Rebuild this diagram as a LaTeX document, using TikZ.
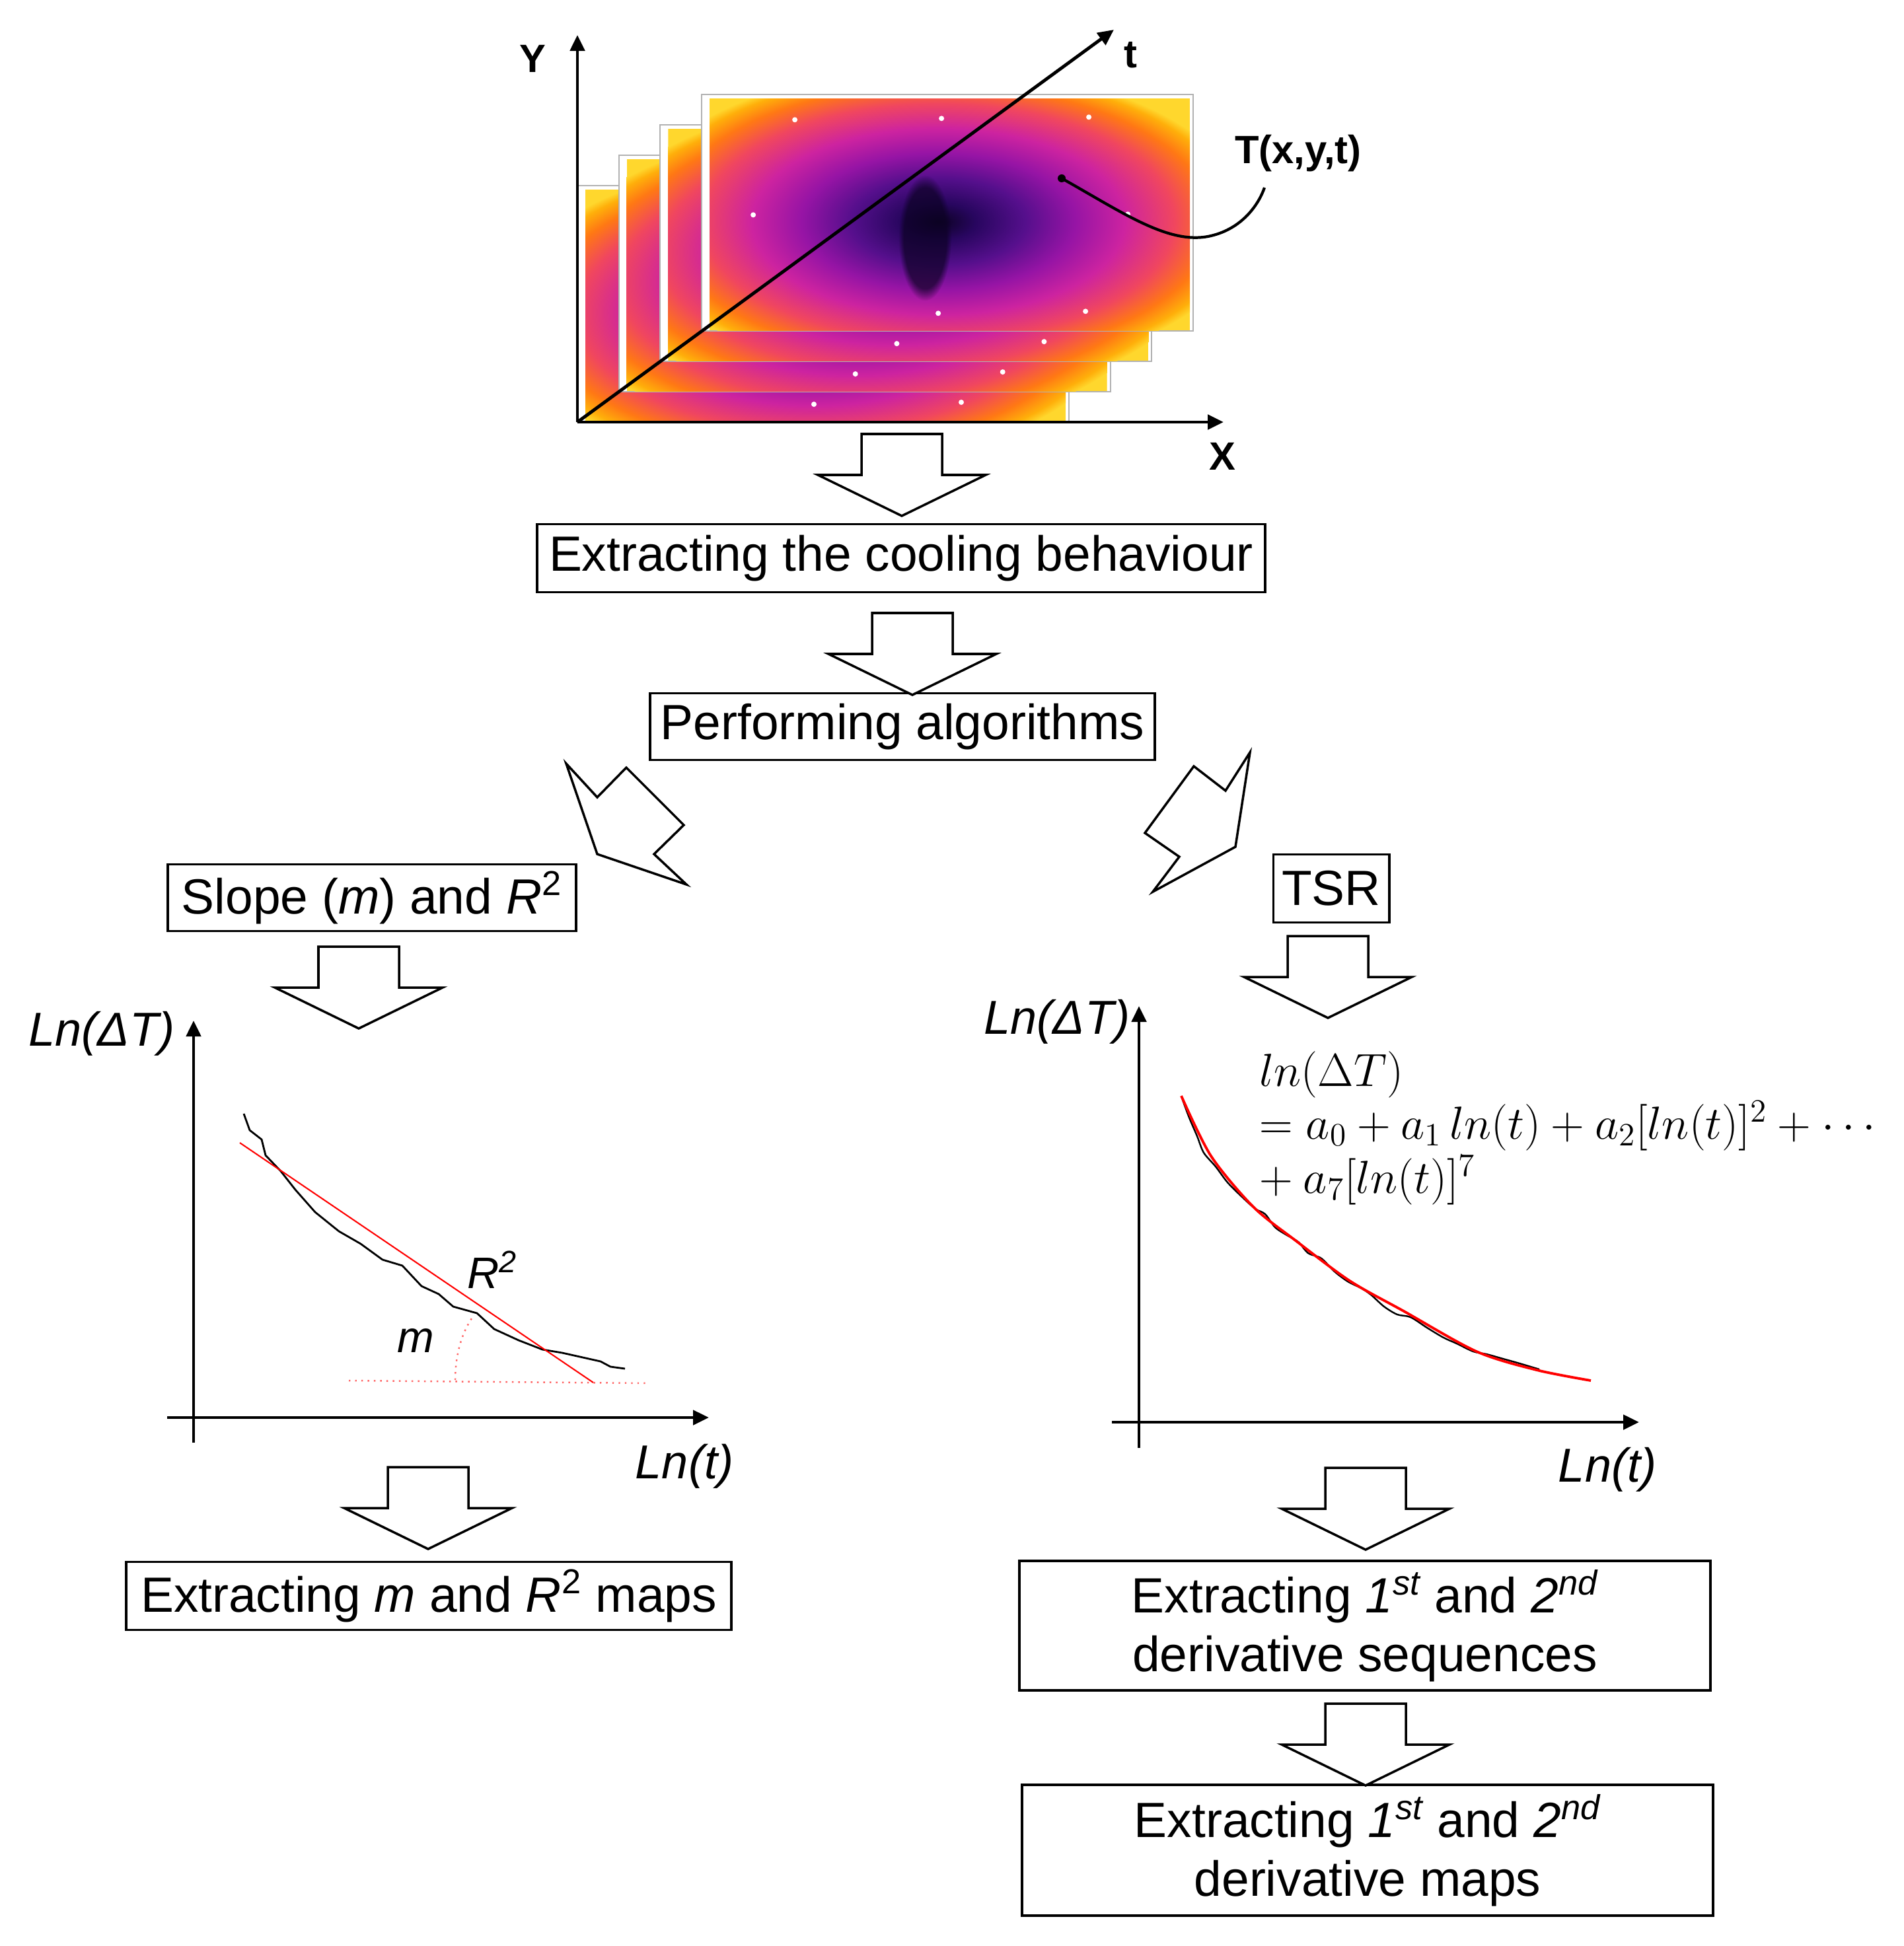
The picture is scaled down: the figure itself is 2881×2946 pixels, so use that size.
\RequirePackage{fix-cm}
\documentclass[tikz,border=0pt]{standalone}
\usepackage[no-math]{fontspec}
\setmainfont{Liberation Sans}
\usetikzlibrary{arrows.meta,fadings}
\definecolor{thdark}{RGB}{12,2,35}
\definecolor{thnavy}{RGB}{40,6,95}
\definecolor{thindigo}{RGB}{85,15,140}
\definecolor{thpurple}{RGB}{150,20,165}
\definecolor{thmagenta}{RGB}{205,35,160}
\definecolor{thpink}{RGB}{240,70,95}
\definecolor{thorange}{RGB}{255,120,20}
\definecolor{thamber}{RGB}{255,175,10}
\definecolor{thyellow}{RGB}{255,215,45}
\pgfdeclareradialshading{thermal}{\pgfpoint{0bp}{0bp}}{color(0bp)=(thdark); color(3bp)=(thnavy);
  color(7bp)=(thindigo); color(11bp)=(thpurple); color(15bp)=(thmagenta); color(19bp)=(thpink);
  color(22bp)=(thorange); color(24bp)=(thamber); color(25bp)=(thyellow); color(50bp)=(thyellow)}
\tikzset{
  procbox/.style={draw=black,line width=1.1pt,inner sep=0pt,align=center,
    font=\fontsize{21.3}{25.3}\selectfont},
  axis/.style={line width=1.4pt},
  axlbl/.style={font=\itshape\fontsize{20.5}{24}\selectfont},
  plbl/.style={font=\itshape\fontsize{19}{22}\selectfont},
  tag/.style={font=\bfseries\fontsize{17}{20}\selectfont},
  eqn/.style={anchor=base west,inner sep=0pt,font=\fontsize{20}{24}\selectfont},
  hollow/.style={draw=black,line width=1pt,fill=white,line join=miter},
  % pictograms
  pics/downarrow/.style={code={
    \draw[hollow] (-61,0) -- (61,0) -- (61,62) -- (127,62) -- (0,124) -- (-127,62) -- (-61,62) -- cycle;
  }},
}
\begin{document}
\begin{tikzpicture}[x=0.01cm,y=-0.01cm,>={Triangle[length=0.24cm,width=0.22cm]}]
  \useasboundingbox (0,0) rectangle (2881,2946);

  % stack of thermograms
  \foreach \k in {0,1,2,3}{
    \begin{scope}[shift={(62.7*\k,-45.9*\k)}]
      \fill[white,draw=gray!60,line width=0.6pt] (874,281) rectangle (1618,639);
      \begin{scope}
        \clip (886,287) rectangle (1613,638);
        \fill[thyellow] (886,287) rectangle (1613,638);
        \shade[shading=thermal] (1232,473) ellipse (470 and 235);
        \fill[thdark,opacity=0.7,path fading=circle with fuzzy edge 20 percent] (1212,498) ellipse (40 and 95);
        \foreach \p in {(1015,319),(1237,317),(1460,315),(952,463),(1232,612),(1455,609),(1519,462)}
          \fill[white] \p circle (4);
      \end{scope}
    \end{scope}
  }
  \coordinate (o) at (874,639);
  \draw[axis,->] (o) -- (874,53);
  \draw[axis,->] (o) -- (1852,639);
  \draw[axis,->] (o) -- (1686,45);
  \node[tag] (ylab) at (806,89) {Y};
  \node[tag] (tlab) at (1711,83) {t};
  \node[tag] (xlab) at (1850,691) {X};
  \node[tag] (txyt) at (1965,232) {T(x,y,t)};
  \fill (1607,270) circle (6);
  \draw[line width=1.2pt] (1607,270) .. controls (1700,322) and (1770,372) .. (1833,357)
    .. controls (1880,346) and (1905,310) .. (1914,284);

  % flow boxes
  \node[procbox,minimum width=11.01cm,minimum height=1.03cm] (cool) at (1364,845) {Extracting the cooling behaviour};
  \node[procbox,minimum width=7.63cm,minimum height=1.01cm] (perf) at (1366,1100) {Performing algorithms};
  \node[procbox,minimum width=6.18cm,minimum height=1.01cm] (slope) at (563,1359) {Slope (\textit{m}) and \textit{R}\textsuperscript{2}};
  \node[procbox,minimum width=1.75cm,minimum height=1.03cm] (tsr) at (2015,1345) {TSR};
  \node[procbox,minimum width=9.15cm,minimum height=1.03cm] (mapsl) at (649,2416) {Extracting \textit{m} and \textit{R}\textsuperscript{2} maps};
  \node[procbox,minimum width=10.46cm,minimum height=1.96cm] (seq) at (2066,2461)
    {Extracting \textit{1\textsuperscript{st}} and \textit{2\textsuperscript{nd}}\\derivative sequences};
  \node[procbox,minimum width=10.46cm,minimum height=1.98cm] (dmaps) at (2070,2801)
    {Extracting \textit{1\textsuperscript{st}} and \textit{2\textsuperscript{nd}}\\derivative maps};

  % block arrows
  \pic at (1365,657) {downarrow};
  \pic at (1381,928) {downarrow};
  \pic at (543,1433) {downarrow};
  \pic at (2010,1417) {downarrow};
  \pic at (648,2221) {downarrow};
  \pic at (2067,2222) {downarrow};
  \pic at (2067,2579) {downarrow};
  \draw[hollow] (857,1156) -- (904,1207) -- (948,1162) -- (1035,1249) -- (990,1293) -- (1039,1339) -- (904,1293) -- cycle;
  \draw[hollow] (1892,1139) -- (1855,1197) -- (1807,1160) -- (1733,1261) -- (1785,1297) -- (1745,1350) -- (1870,1282) -- cycle;

  % slope plot
  \draw[axis,->] (293,2184) -- (293,1545);
  \draw[axis,->] (253,2146) -- (1073,2146);
  \node[axlbl] (lyl) at (154,1565) {Ln(ΔT)};
  \node[axlbl] (lxl) at (1036,2220) {Ln(t)};
  \draw[line width=0.8pt] plot coordinates {(369,1686) (378,1711) (396,1725) (402,1749) (425,1773) (447,1801)
    (477,1835) (513,1864) (546,1883) (579,1907) (609,1916) (638,1947) (664,1959) (686,1978) (722,1988)
    (748,2012) (785,2029) (821,2043) (851,2048) (909,2061) (924,2069) (946,2072)};
  \draw[red,line width=0.6pt] (363,1730) -- (898,2093);
  \draw[red!60,dotted,line width=0.7pt] (528,2090) -- (983,2094);
  \draw[red!60,dotted,line width=0.7pt] (689,2089) .. controls (689,2050) and (700,2015) .. (716,1993);
  \node[plbl] (r2) at (745,1922) {R\textsuperscript{2}};
  \node[plbl] (mlbl) at (629,2030) {m};

  % TSR plot
  \draw[axis,->] (1724,2192) -- (1724,1523);
  \draw[axis,->] (1683,2153) -- (2481,2153);
  \node[axlbl] (ryl) at (1600,1547) {Ln(ΔT)};
  \node[axlbl] (rxl) at (2433,2225) {Ln(t)};
  \draw[line width=0.7pt] plot[smooth] coordinates {(1790,1665) (1800,1692) (1812,1720) (1822,1745) (1840,1766)
    (1858,1790) (1880,1812) (1900,1830) (1915,1838) (1930,1858) (1948,1870) (1965,1880) (1980,1897) (2000,1905)
    (2020,1925) (2040,1940) (2060,1950) (2075,1960) (2095,1978) (2115,1990) (2135,1994) (2160,2010) (2185,2025)
    (2205,2034) (2230,2046) (2250,2050) (2275,2057) (2300,2064) (2330,2073)};
  \draw[red,line width=1.1pt] plot[smooth] coordinates {(1788,1659) (1833,1750) (1897,1827) (1961,1878)
    (2043,1939) (2125,1985) (2235,2046) (2326,2074) (2408,2090)};
  \node[eqn] (eq1) at (1906,1644) {$ln(\Delta T)$};
  \node[eqn] (eq2) at (1906,1724) {$= a_0 + a_1\,ln(t) + a_2[ln(t)]^2 + \cdots$};
  \node[eqn] (eq3) at (1906,1806) {$+\:a_7[ln(t)]^7$};
\end{tikzpicture}
\end{document}
